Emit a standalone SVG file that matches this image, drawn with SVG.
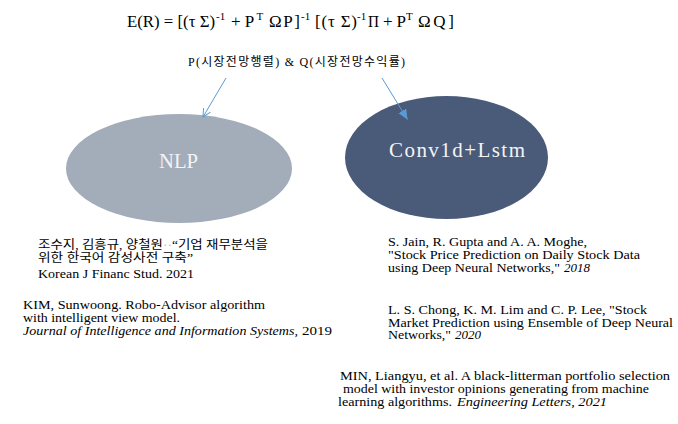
<svg xmlns="http://www.w3.org/2000/svg" width="678" height="424" viewBox="0 0 678 424">
<style>
.f{font-family:"Liberation Serif","Noto Sans CJK KR",serif;fill:#000}
.eq{font-size:17px}
.sup{font-size:11px}
.ref{font-size:12px}
.it{font-style:italic}
.lbl{font-family:"Liberation Serif","Noto Sans CJK KR",serif;fill:#f4f4f4;font-size:21px}
.conn{stroke:#5b9bd5;stroke-width:1;fill:none}
</style>
<defs>
<marker id="open" markerWidth="12" markerHeight="12" refX="10" refY="6" orient="auto" markerUnits="userSpaceOnUse">
<path d="M2,2 L10,6 L2,10" fill="none" stroke="#5b9bd5" stroke-width="1"/>
</marker>
<marker id="fill" markerWidth="12" markerHeight="12" refX="10" refY="6" orient="auto" markerUnits="userSpaceOnUse">
<path d="M0,1.5 L10,6 L0,10.5 Z" fill="#5b9bd5"/>
</marker>
</defs>
<rect width="678" height="424" fill="#fff"/>

<g id="formula" class="f">
<text class="eq" x="127" y="27" textLength="88" lengthAdjust="spacingAndGlyphs">E(R) = [(τ Σ)</text>
<text class="sup" x="216" y="20">-1</text>
<text class="eq" x="231" y="27">+ P</text>
<text class="sup" x="256.5" y="20">T</text>
<text class="eq" x="269" y="27" textLength="31" lengthAdjust="spacing">ΩP]</text>
<text class="sup" x="301" y="20">-1</text>
<text class="eq" x="315" y="27" textLength="42" lengthAdjust="spacing">[(τ Σ)</text>
<text class="sup" x="357" y="20">-1</text>
<text class="eq" x="368" y="27" textLength="11" lengthAdjust="spacingAndGlyphs">Π</text>
<text class="eq" x="383" y="27">+</text>
<text class="eq" x="396.5" y="27">P</text>
<text class="sup" x="406" y="20">T</text>
<text class="eq" x="418" y="27" textLength="36" lengthAdjust="spacing">ΩQ]</text>
</g>

<g id="subtitle" class="f">
<text class="ref" x="188" y="66" textLength="217" lengthAdjust="spacing">P(시장전망행렬) &amp; Q(시장전망수익률)</text>
</g>

<g id="nlp">
<ellipse cx="179" cy="168.5" rx="113" ry="54.5" fill="#a3acb9"/>
<text class="lbl" x="178.5" y="168" text-anchor="middle" textLength="39" lengthAdjust="spacingAndGlyphs">NLP</text>
</g>

<g id="conv">
<ellipse cx="446.5" cy="157.5" rx="101.5" ry="61.5" fill="#4a5a79"/>
<text class="lbl" x="389" y="157" textLength="136" lengthAdjust="spacing">Conv1d+Lstm</text>
</g>

<g id="connectors">
<line class="conn" x1="226" y1="78" x2="203" y2="117" marker-end="url(#open)"/>
<line class="conn" x1="382" y1="78" x2="407.5" y2="119.5" marker-end="url(#fill)"/>
</g>

<g id="ref-left" class="f ref">
<text x="38" y="249" textLength="230" lengthAdjust="spacingAndGlyphs">조수지, 김흥규, 양철원<tspan fill="#bbbbbb">··</tspan>“기업 재무분석을</text>
<text x="38" y="261.5" textLength="155" lengthAdjust="spacingAndGlyphs">위한 한국어 감성사전 구축”</text>
<text x="38" y="277.5" textLength="156" lengthAdjust="spacingAndGlyphs">Korean J Financ Stud. 2021</text>
<text x="23" y="309" textLength="242" lengthAdjust="spacingAndGlyphs">KIM, Sunwoong. Robo-Advisor algorithm</text>
<text x="23" y="322" textLength="157" lengthAdjust="spacingAndGlyphs">with intelligent view model.</text>
<text class="it" x="23" y="335" textLength="275" lengthAdjust="spacingAndGlyphs">Journal of Intelligence and Information Systems,</text>
<text x="302" y="335" textLength="30" lengthAdjust="spacingAndGlyphs">2019</text>
</g>

<g id="ref-right" class="f ref">
<text x="388" y="246" textLength="199" lengthAdjust="spacingAndGlyphs">S. Jain, R. Gupta and A. A. Moghe,</text>
<text x="388" y="259" textLength="252" lengthAdjust="spacingAndGlyphs">"Stock Price Prediction on Daily Stock Data</text>
<text x="388" y="272" textLength="172" lengthAdjust="spacingAndGlyphs">using Deep Neural Networks,"</text>
<text class="it" x="564" y="272" textLength="26" lengthAdjust="spacingAndGlyphs">2018</text>
<text x="388" y="314" textLength="259" lengthAdjust="spacingAndGlyphs">L. S. Chong, K. M. Lim and C. P. Lee, "Stock</text>
<text x="388" y="326.5" textLength="285" lengthAdjust="spacingAndGlyphs">Market Prediction using Ensemble of Deep Neural</text>
<text x="388" y="339" textLength="63" lengthAdjust="spacingAndGlyphs">Networks,"</text>
<text class="it" x="455" y="339" textLength="26" lengthAdjust="spacingAndGlyphs">2020</text>
</g>

<g id="ref-bottom" class="f ref">
<text x="340" y="380" textLength="330" lengthAdjust="spacingAndGlyphs">MIN, Liangyu, et al. A black-litterman portfolio selection</text>
<text x="343" y="393" textLength="306" lengthAdjust="spacingAndGlyphs">model with investor opinions generating from machine</text>
<text x="338" y="405.5" textLength="114" lengthAdjust="spacingAndGlyphs">learning algorithms.</text>
<text class="it" x="457" y="405.5" textLength="150" lengthAdjust="spacingAndGlyphs">Engineering Letters, 2021</text>
</g>
</svg>
